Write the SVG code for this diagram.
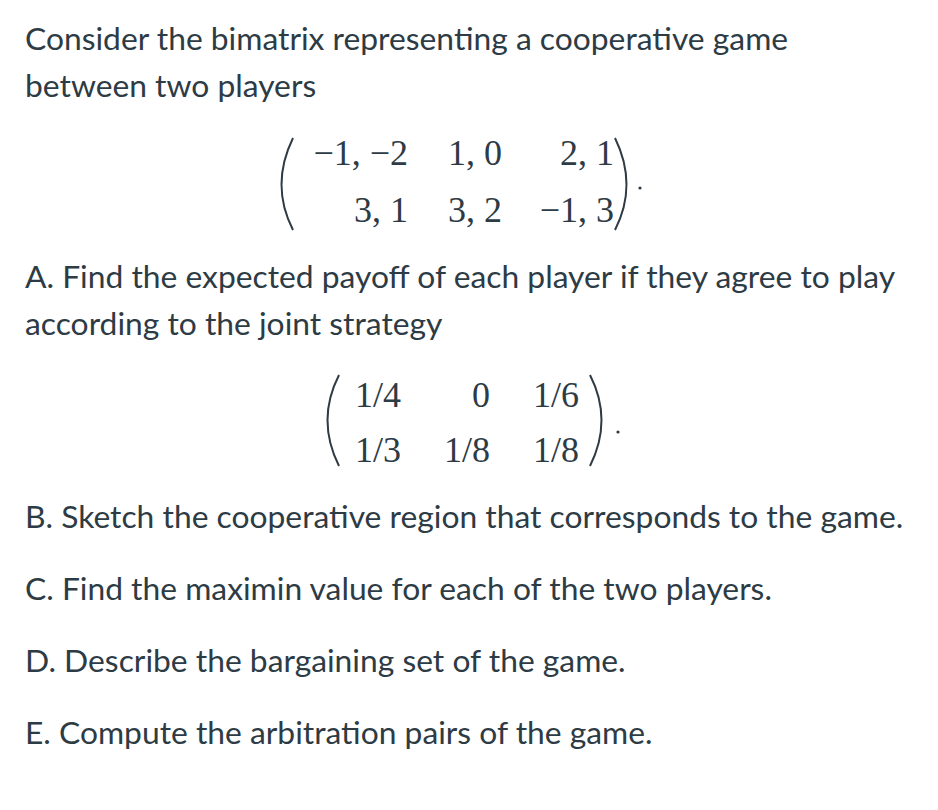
<svg xmlns="http://www.w3.org/2000/svg" width="938" height="810" viewBox="0 0 938 810">
<style>
.t{font-family:Lato,"Open Sans",sans-serif;font-size:31.8px;fill:#2d3b45}
.m{font-family:"Liberation Serif",serif;font-size:36px;fill:#2d3b45}
.p{fill:none;stroke:#2d3b45;stroke-width:2}
</style>
<rect width="938" height="810" fill="#fff"/>
<g id="text">
<text class="t" x="25" y="50">Consider the bimatrix representing a cooperative game</text>
<text class="t" x="25" y="97">between two players</text>
<text class="t" x="25" y="288">A. Find the expected payoff of each player if they agree to play</text>
<text class="t" x="25" y="335">according to the joint strategy</text>
<text class="t" x="25" y="528">B. Sketch the cooperative region that corresponds to the game.</text>
<text class="t" x="25" y="600">C. Find the maximin value for each of the two players.</text>
<text class="t" x="25" y="672">D.  Describe the bargaining set of the game.</text>
<text class="t" x="25" y="744">E. Compute the arbitration pairs of the game.</text>
</g>
<g id="matrix1">
<path class="p" d="M293,138 Q270,185 293,230"/>
<path class="p" d="M615,138 Q638,185 615,230"/>
<circle cx="640" cy="188" r="1.6" fill="#2d3b45"/>
<g class="m" text-anchor="end">
<text x="408" y="165">−1, −2</text><text x="502" y="165">1, 0</text><text x="614" y="165">2, 1</text>
<text x="408" y="222">3, 1</text><text x="502" y="222">3, 2</text><text x="614" y="222">−1, 3</text>
</g>
</g>
<g id="matrix2">
<path class="p" d="M339,375 Q316,420 339,466"/>
<path class="p" d="M590,375 Q613,420 590,466"/>
<circle cx="618" cy="432" r="1.6" fill="#2d3b45"/>
<g class="m">
<text x="355" y="407">1/4</text><text x="355" y="462">1/3</text>
<text x="490" y="407" text-anchor="end">0</text><text x="490" y="462" text-anchor="end">1/8</text>
<text x="579" y="407" text-anchor="end">1/6</text><text x="579" y="462" text-anchor="end">1/8</text>
</g>
</g>
</svg>
